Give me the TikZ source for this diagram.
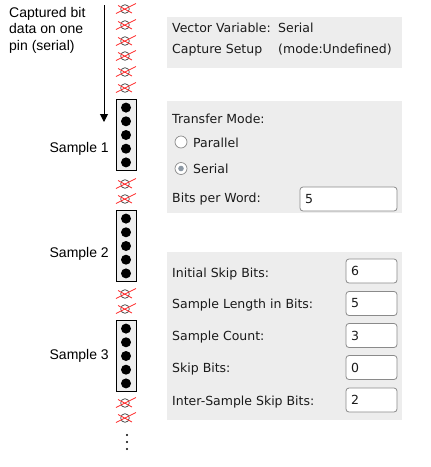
\documentclass[tikz,border=0pt]{standalone}
\usepackage{fontspec}
\setmainfont{Liberation Sans}
\newfontfamily\uifont{DejaVu Sans}
\usetikzlibrary{arrows.meta}
\definecolor{panelgray}{HTML}{EDEDED}
\definecolor{boxgray}{HTML}{8A8A8A}
\definecolor{xred}{HTML}{FF2A2A}
\definecolor{samplegray}{HTML}{EEEEEE}
\definecolor{uitext}{HTML}{1A1A1A}
\definecolor{radiodot}{HTML}{8C98A4}
\tikzset{
  panel/.style={fill=panelgray, draw=none},
  bigtext/.style={font=\fontsize{14}{16}\selectfont, inner sep=0pt, text=black},
  uilab/.style={font=\uifont\fontsize{12.5}{14}\selectfont, inner sep=0pt, anchor=base west, text=uitext},
  inbox/.style={draw=boxgray, fill=white, rounded corners=3pt, line width=0.8pt,
    minimum height=24pt, inner xsep=5pt, align=left,
    font=\uifont\fontsize{12.5}{14}\selectfont, text=uitext},
  samplebox/.style={draw=black, fill=samplegray, line width=0.9pt, minimum width=20pt, minimum height=71pt, inner sep=0pt},
  bitdot/.style={fill=black},
  radio/.style={draw=boxgray, fill=white, line width=0.7pt},
  skipbit/.pic={
    \draw[black!75, line width=0.7pt] (0,0) circle (4.3);
    \draw[xred, line width=0.8pt] (-9,4.5) -- (11,-5.5);
    \draw[xred, line width=0.8pt] (-7,-3.5) -- (7,4);
  }
}
\begin{document}
\begin{tikzpicture}[x=1pt,y=-1pt]
\useasboundingbox (0,0) rectangle (431,467);

% left text
\node[bigtext, anchor=base west] (cap1) at (9,17) {Captured bit};
\node[bigtext, anchor=base west] (cap2) at (9,33.5) {data on one};
\node[bigtext, anchor=base west] (cap3) at (9,50) {pin (serial)};

% arrow
\coordinate (atop) at (104,5);
\coordinate (abot) at (104,122);
\draw[line width=1pt, -{Triangle[length=8pt,width=8pt]}] (atop) -- (abot);

% skipped bits
\foreach \y in {9,25,41,56,72,88,184,199,294,309,403,418}
  \pic at (125,\y) {skipbit};

% sample boxes
\node[samplebox] (s1) at (126,135) {};
\node[samplebox] (s2) at (126,246) {};
\node[samplebox] (s3) at (126,356) {};
\foreach \c in {135,246,356}
  \foreach \d in {-27.4,-13.7,0,13.7,27.4}
    \fill[bitdot] (126,\c+\d) circle (5);

% sample labels
\node[bigtext, anchor=base east] (l1) at (109,152) {Sample 1};
\node[bigtext, anchor=base east] (l2) at (109,257) {Sample 2};
\node[bigtext, anchor=base east] (l3) at (109,359) {Sample 3};

% continuation dots
\foreach \y in {435,442,449}
  \fill[black] (127,\y) circle (1.1);

% panel 1
\fill[panel] (167,17) rectangle (402,68);
\node[uilab] (vv) at (172,32) {Vector Variable:};
\node[uilab] (vvs) at (278,32) {Serial};
\node[uilab] (cs) at (172,53) {Capture Setup};
\node[uilab] (csm) at (278,53) {(mode:Undefined)};

% panel 2
\fill[panel] (167,101) rectangle (402,213);
\node[uilab] (tm) at (172,123) {Transfer Mode:};
\draw[radio] (181,142) circle (6);
\node[uilab] (par) at (193,147) {Parallel};
\draw[radio] (181,168.5) circle (6);
\fill[radiodot] (181,168.5) circle (2.8);
\node[uilab] (ser) at (193,173) {Serial};
\node[uilab] (bpw) at (172,202) {Bits per Word:};
\node[inbox, minimum width=97pt, text width=87pt] (bpwv) at (348.5,199) {5};

% panel 3
\fill[panel] (167,252) rectangle (402,420);
\node[uilab] (isb) at (172,277) {Initial Skip Bits:};
\node[uilab] (slb) at (172,308.5) {Sample Length in Bits:};
\node[uilab] (sc) at (172,340.5) {Sample Count:};
\node[uilab] (sb) at (172,372.5) {Skip Bits:};
\node[uilab] (issb) at (172,405) {Inter-Sample Skip Bits:};
\node[inbox, minimum width=51pt, text width=41pt] (isbv) at (371.5,271) {6};
\node[inbox, minimum width=51pt, text width=41pt] (slbv) at (371.5,303.5) {5};
\node[inbox, minimum width=51pt, text width=41pt] (scv) at (371.5,335.5) {3};
\node[inbox, minimum width=51pt, text width=41pt] (sbv) at (371.5,367.5) {0};
\node[inbox, minimum width=51pt, text width=41pt] (issbv) at (371.5,400) {2};
\end{tikzpicture}
\end{document}
